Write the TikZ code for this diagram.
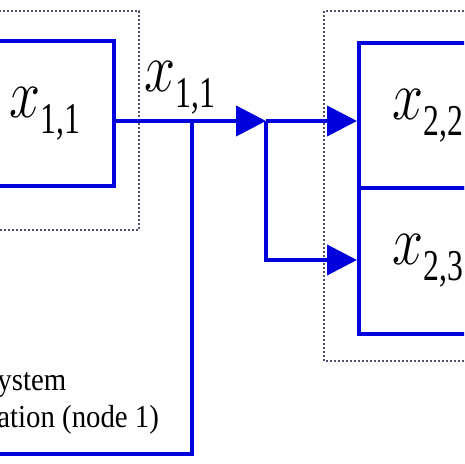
\documentclass[tikz,border=0pt]{standalone}
\usepackage{fontspec}
\setmainfont{Liberation Serif}
\newfontfamily\labfont[FakeStretch=0.9]{Liberation Serif}
\newfontfamily\subfont[FakeStretch=0.72]{Liberation Serif}
\usetikzlibrary{arrows.meta}
\definecolor{wireblue}{RGB}{0,0,220}
\definecolor{dotgray}{RGB}{80,80,110}
\newcommand{\xvar}[1]{{\fontsize{24}{24}\selectfont\scalebox{1.12}[1.4]{$x$}}\raisebox{-8pt}{\fontsize{22}{22}\subfont #1}}

\begin{document}
\begin{tikzpicture}[x=0.5pt,y=0.5pt]
  \tikzset{
    blk/.style={draw=wireblue, line width=2pt, rectangle, inner sep=0, minimum width=69pt, minimum height=72.5pt},
    grp/.style={draw=dotgray, line width=0.6pt, dash pattern=on 0.8pt off 1.2pt},
    wire/.style={draw=wireblue, line width=2pt},
    arr/.style={wire, -{Triangle[length=15pt,width=15pt]}}
  }
  \useasboundingbox (0,0) rectangle (464,464);
  \clip (0,0) rectangle (464,464);
  % dotted groups
  \draw[grp] (-10,234) rectangle (139,453);
  \draw[grp] (324,103) rectangle (490,453);
  % blocks
  \node[blk] (n11) at (45,350.5) {\xvar{1,1}};
  \node[blk, anchor=north west] (n22) at (357,423) {\xvar{2,2}};
  \node[blk, anchor=north west, minimum height=73pt] (n23) at (357,278) {\xvar{2,3}};
  % wires
  \coordinate (j) at (266,343);
  \coordinate (b) at (192,343);
  \coordinate (k) at (266,204);
  \coordinate (out) at (-10,10);
  \draw[arr] (j -| n11.east) -- (j);
  \draw[arr] (j) -- (j -| n22.west);
  \draw[arr] (j) |- (k -| n23.west);
  \draw[wire] (b) |- (out);
  \node (l11) at (180,376) {\xvar{1,1}};
  \node[anchor=south west, inner sep=0, align=left, font=\fontsize{16}{18.5}\labfont] (note) at (-3,29) {ystem\\ation (node 1)};
\end{tikzpicture}
\end{document}
